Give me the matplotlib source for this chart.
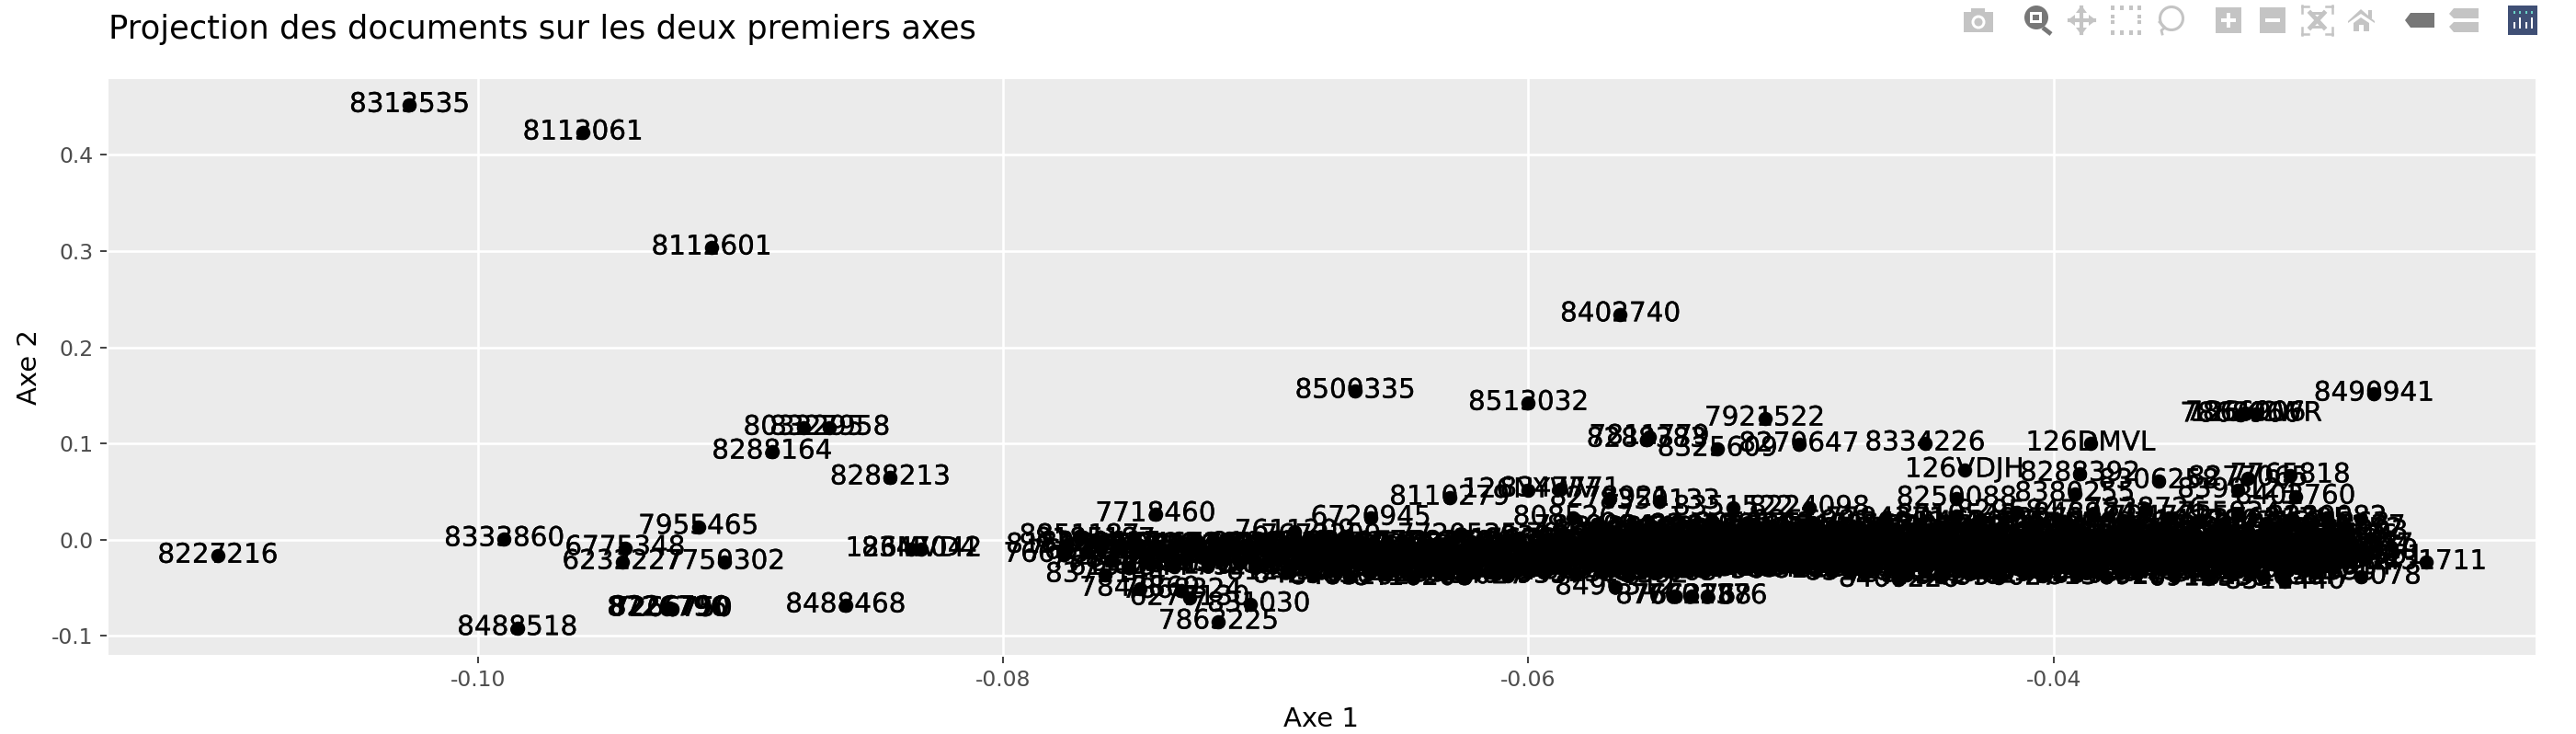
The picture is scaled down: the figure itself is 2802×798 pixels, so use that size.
import matplotlib
matplotlib.use("Agg")
import matplotlib.pyplot as plt
import matplotlib.patheffects as pe
from matplotlib.patches import Rectangle, Circle, Polygon

TITLE = "Projection des documents sur les deux premiers axes"
X_TICKS = [-0.10, -0.08, -0.06, -0.04]
X_TICK_LABELS = ["-0.10", "-0.08", "-0.06", "-0.04"]
Y_TICKS = [-0.1, 0.0, 0.1, 0.2, 0.3, 0.4]
Y_TICK_LABELS = ["-0.1", "0.0", "0.1", "0.2", "0.3", "0.4"]

# documents that can be read individually
read_labels = ("8313535 8113061 8112601 8227216 8333860 7955465 6775348 6232227 7750302 "
               "8726796 7266750 8226790 8488518 8488468 8032295 8327958 8288164 8288213 "
               "126MVD4 8347042 8402740 8500335 8513032 7811779 8288383 8325609 7921522 "
               "8270647 8334226 126DMVL 126VDJH 8288392 8306258 7866906 126KCWR 7868966 "
               "8490941 8277065 7765818 8402760 8399124 8431711 8476078 8311440 8280082 "
               "8226427 8325752 8190224 7718460 8851187 8185187 7666542 8372144 7842869 "
               "6277130 7868324 7831030 7863225 7611209 6720945 7672209 8110279 126NYWV "
               "8347771 8085267 8278921 8350133 8351522 8224098 8250088 8380255 8496312 "
               "8766276 7672388 7601376 8407226 7720535 8156760 7829034").split()
read_x = [-.1026, -.0960, -.0911, -.1099, -.0990, -.0916, -.0944, -.0945, -.0906,
          -.0928, -.0926, -.0927, -.0985, -.0860, -.0876, -.0866, -.0888, -.0843,
          -.0835, -.0831, -.0565, -.0666, -.0600, -.0554, -.0555, -.0528, -.0510,
          -.0497, -.0449, -.0386, -.0434, -.0390, -.0360, -.0327, -.0323, -.0329,
          -.0278, -.0326, -.0310, -.0308, -.0330, -.0258, -.0283, -.0312, -.0296,
          -.0289, -.0290, -.0287, -.0742, -.0771, -.0765, -.0777, -.0761, -.0748,
          -.0729, -.0732, -.0706, -.0718, -.0689, -.0660, -.0679, -.0630, -.0600,
          -.0588, -.0583, -.0569, -.0550, -.0522, -.0493, -.0437, -.0392, -.0567,
          -.0544, -.0538, -.0532, -.0459, -.0627, -.0606, -.0575]
read_y = [.4518, .4232, .3037, -.0167, .0007, .0134, -.0086, -.0232, -.0232,
          -.0717, -.0722, -.0712, -.0918, -.0682, .1163, .1163, .0915, .0647,
          -.0098, -.0098, .2342, .1546, .1421, .1068, .1039, .0944, .1259,
          .0991, .1001, .1001, .0724, .0685, .0609, .1312, .1307, .1300,
          .1517, .0638, .0667, .0446, .0513, -.0233, -.0385, -.0434, .0226,
          .0131, .0100, -.0098, .0265, .0035, -.0003, -.0157, -.0366, -.0510,
          -.0605, -.0530, -.0673, -.0853, .0083, .0226, .0035, .0437, .0514,
          .0524, .0226, .0427, .0397, .0330, .0330, .0427, .0475, -.0495,
          -.0590, -.0590, -.0590, -.0415, .0040, -.0010, .0130]

# dense band: positions estimated, labels hidden by overlap
band_x = [
 -.0776, -.0768, -.0763, -.0759, -.0756, -.0752, -.0749, -.0746, -.0744, -.0741,
 -.0738, -.0735, -.0733, -.0730, -.0727, -.0725, -.0722, -.0720, -.0717, -.0715,
 -.0712, -.0710, -.0708, -.0706, -.0704, -.0702, -.0700, -.0698, -.0696, -.0694,
 -.0692, -.0690, -.0688, -.0686, -.0684, -.0682, -.0680, -.0678, -.0676, -.0674,
 -.0672, -.0670, -.0668, -.0666, -.0664, -.0662, -.0660, -.0658, -.0656, -.0654,
 -.0652, -.0650, -.0648, -.0646, -.0644, -.0642, -.0640, -.0638, -.0636, -.0634,
 -.0632, -.0630, -.0628, -.0626, -.0624, -.0622, -.0620, -.0618, -.0616, -.0614,
 -.0612, -.0610, -.0608, -.0606, -.0604, -.0602, -.0600, -.0598, -.0596, -.0594,
 -.0592, -.0590, -.0588, -.0586, -.0584, -.0582, -.0580, -.0578, -.0576, -.0574,
 -.0572, -.0571, -.0569, -.0568, -.0566, -.0565, -.0563, -.0562, -.0560, -.0559,
 -.0558, -.0557, -.0556, -.0555, -.0554, -.0553, -.0552, -.0551, -.0550, -.0549,
 -.0548, -.0547, -.0546, -.0545, -.0544, -.0543, -.0542, -.0541, -.0540, -.0539,
 -.0538, -.0537, -.0536, -.0535, -.0534, -.0533, -.0532, -.0531, -.0530, -.0529,
 -.0528, -.0527, -.0526, -.0525, -.0524, -.0523, -.0522, -.0521, -.0520, -.0519,
 -.0518, -.0516, -.0515, -.0514, -.0512, -.0511, -.0510, -.0508, -.0507, -.0506,
 -.0505, -.0503, -.0502, -.0501, -.0499, -.0498, -.0497, -.0495, -.0494, -.0493,
 -.0492, -.0490, -.0489, -.0488, -.0486, -.0485, -.0484, -.0482, -.0481, -.0480,
 -.0479, -.0477, -.0476, -.0475, -.0473, -.0472, -.0471, -.0469, -.0468, -.0467,
 -.0466, -.0464, -.0463, -.0462, -.0460, -.0459, -.0458, -.0456, -.0455, -.0454,
 -.0453, -.0451, -.0450, -.0449, -.0447, -.0446, -.0445, -.0443, -.0442, -.0441,
 -.0440, -.0438, -.0437, -.0436, -.0434, -.0433, -.0432, -.0430, -.0429, -.0428,
 -.0427, -.0425, -.0424, -.0423, -.0421, -.0420, -.0419, -.0417, -.0416, -.0415,
 -.0414, -.0412, -.0411, -.0410, -.0408, -.0407, -.0406, -.0404, -.0403, -.0402,
 -.0401, -.0399, -.0398, -.0397, -.0395, -.0394, -.0393, -.0391, -.0390, -.0389,
 -.0388, -.0386, -.0385, -.0384, -.0382, -.0381, -.0380, -.0378, -.0377, -.0376,
 -.0375, -.0373, -.0372, -.0371, -.0369, -.0368, -.0367, -.0365, -.0364, -.0363,
 -.0362, -.0360, -.0359, -.0358, -.0356, -.0355, -.0354, -.0352, -.0351, -.0350,
 -.0349, -.0347, -.0346, -.0345, -.0343, -.0342, -.0341, -.0339, -.0338, -.0337,
 -.0336, -.0334, -.0333, -.0332, -.0330, -.0329, -.0328, -.0326, -.0325, -.0324,
 -.0323, -.0321, -.0320, -.0319, -.0317, -.0316, -.0315, -.0313, -.0312, -.0311,
 -.0310, -.0308, -.0307, -.0306, -.0304, -.0303, -.0302, -.0300, -.0299, -.0298,
 -.0297, -.0295, -.0294, -.0292, -.0291, -.0290, -.0288, -.0286, -.0284, -.0282]
band_y = [
 -.0061, -.0125, -.0042, -.0214, -.0088, -.0292, -.0057, -.0166, -.0249, -.0071,
 -.0131, -.0278, -.0064, -.0197, -.0053, -.0148, -.0262, -.0086, -.0181, -.0072,
 -.0103, -.0235, -.0059, -.0166, -.0287, -.0072, -.0129, -.0045, -.0204, -.0093,
 -.0341, -.0052, -.0156, -.0268, -.0081, -.0372, -.0118, -.0224, -.0041, -.0305,
 -.0176, -.0066, -.0389, -.0135, -.0251, -.0037, -.0324, -.0098, -.0208, -.0361,
 -.0078, -.0286, -.0152, -.0049, -.0398, -.0229, -.0112, -.0317, -.0061, -.0189,
 -.0352, -.0034, -.0247, -.0127, -.0381, -.0084, -.0296, -.0169, -.0052, -.0338,
 -.0215, -.0096, -.0374, -.0027, -.0274, -.0143, -.0322, -.0068, -.0193, -.0011,
 -.0301, -.0126, .0018, -.0238, -.0083, -.0359, -.0176, .0047, -.0264, -.0105,
 -.0331, -.0028, -.0201, .0079, -.0147, -.0289, -.0062, -.0372, .0113, -.0225,
 -.0118, .0031, -.0317, -.0171, .0092, -.0042, -.0254, -.0346, .0016, -.0098,
 -.0209, .0064, -.0281, -.0134, -.0019, .0125, -.0308, -.0077, -.0236, .0038,
 -.0153, -.0292, .0087, -.0051, -.0186, -.0324, .0011, .0142, -.0112, -.0263,
 -.0029, .0071, -.0215, -.0301, -.0089, .0106, -.0167, .0023, -.0243, -.0126,
 .0054, -.0284, -.0047, .0158, -.0198, -.0107, .0089, -.0312, -.0014, -.0229,
 -.0141, .0033, -.0268, .0122, -.0073, -.0172, -.0296, .0066, -.0036, -.0208,
 .0182, -.0117, -.0253, .0009, -.0154, .0098, -.0321, -.0062, -.0188, .0047,
 -.0279, -.0094, .0135, -.0224, -.0023, -.0343, .0076, -.0131, -.0261, .0018,
 -.0166, .0211, -.0056, -.0302, .0104, -.0203, -.0084, -.0365, .0039, -.0142,
 -.0247, .0162, -.0011, -.0326, -.0112, .0081, -.0184, -.0385, -.0043, .0127,
 -.0231, -.0072, .0244, -.0286, -.0137, .0027, -.0352, -.0098, .0173, -.0215,
 -.0031, -.0317, .0059, -.0159, -.0394, .0116, -.0069, -.0262, .0008, -.0192,
 .0287, -.0124, -.0341, .0091, -.0047, -.0226, .0148, -.0373, -.0085, -.0169,
 .0036, -.0295, .0203, -.0108, -.0248, -.0021, .0122, -.0356, -.0141, .0067,
 -.0201, -.0064, .0258, -.0327, -.0119, .0014, -.0388, -.0176, .0097, -.0036,
 -.0278, .0159, -.0089, -.0219, .0045, -.0345, -.0133, .0312, -.0058, -.0247,
 -.0012, .0109, -.0298, -.0157, .0228, -.0079, -.0376, .0026, -.0192, -.0116,
 .0071, -.0268, -.0041, .0186, -.0331, -.0127, -.0402, .0054, -.0211, -.0091,
 .0134, -.0172, -.0026, -.0359, .0267, -.0236, -.0105, .0088, -.0304, -.0063,
 -.0148, .0019, -.0389, .0171, -.0253, -.0082, .0101, -.0197, -.0037, -.0318,
 .0206, -.0121, -.0274, .0043, -.0178, .0129, -.0069, -.0341, -.0016, -.0231,
 -.0102, .0158, -.0286, .0032, -.0147, -.0215, .0077, -.0058, -.0121, -.0178]
band_labels = """
8151620 7654128 8230417 7981356 8401273 6190844 8356120 7742093 8127765 8290341
7613582 8344109 8021976 7895430 8467201 6634518 8209873 7758246 8390617 8148052
8275390 7532864 8416729 8063195 7920641 8338472 6487013 8196548 7703829 8452106
8123967 7869340 8305218 8246791 7594083 8429650 8071326 7936815 8362047 6805219
8218473 7647590 8483162 8052937 7908254 8321746 8164809 7785012 8440693 8297135
7671248 8379506 8034871 7952163 8416208 6358947 8252790 7826431 8475019 8109652
8341276 7583904 8267518 8095143 7968027 8433861 8186290 7714653 8359427 8028716
8290564 7639182 8407935 8143276 7990518 8324067 6721843 8268159 7851390 8466702
8117435 7796028 8383641 8236907 7562184 8451329 8078562 7943716 8310295 8175840
8259631 7688417 8492056 8046923 7912378 8335184 8129746 7770592 8428603 8303917
7624851 8371269 8015734 7976402 8442518 6549270 8283946 7819063 8460185 8191327
8350672 7593418 8276041 8084795 7958263 8419307 8170584 7732916 8367240 8037659
8298126 7650843 8411579 8152364 7984021 8329756 6873402 8241967 7864130 8473295
8106748 7781526 8392417 8225083 7571962 8436840 8069215 7929673 8314508 8182736
8263094 7695281 8487360 8058142 7903867 8348215 8134679 7763408 8425931 8309564
7631907 8365042 8029386 7965714 8447623 6412859 8279310 7832645 8456078 8197423
8356981 7587236 8271405 8090762 7945138 8422659 8163027 7726514 8373896 8041275
8284713 7662039 8403568 8147902 7993456 8318620 6958174 8254387 7843901 8478216
8112650 7794371 8386029 8231546 7556812 8444197 8084623 7937280 8327461 8178905
8266472 7680354 8495127 8043896 7917502 8342768 8139051 7751246 8432085 8301639
7628174 8378920 8019543 7971086 8438265 6593728 8287601 7815924 8463057 8194582
8353716 7598142 8272639 8097384 7950627 8414903 8168275 7739061 8361458 8035192
8295847 7657230 8409316 8155628 7987043 8325179 6846251 8245830 7860173 8471694
8103425 7788956 8397204 8228361 7578043 8430716 8062589 7923456 8317094 8185273
8260938 7691605 8489742 8051367 7909184 8346530 8136927 7767251 8421486 8306175
7635408 8368791 8023657 7962340 8449012 6465137 8281594 7838726 8453801 8199046
8359324 7584970 8274158 8093617 7947825 8425370 8160492 7729683 8376105 8044738
8287256 7665901 8406143 8141780 7996382 8312947 6912538 8257064 7847216 8476529
8115903 7791642 8389570 8234218 7559347 8447825 8087136 7934062 8320786 8172459
8269015 7683297 8491638 8047152 7914820 8339406 8132574 7754938 8435219 8308642
7621795 8375483 8012869 7978531 8435904 6576312 8289467 7812350 8469128 8192705
8357049 7591263 8277814 8099526 7953140 8418672 8165093 7736847 8364219 8038561
""".split()

# second estimate of the darkest part of the band
core_x = [
 -.0683, -.0677, -.0671, -.0665, -.0659, -.0653, -.0647, -.0641, -.0635, -.0629,
 -.0623, -.0617, -.0611, -.0605, -.0599, -.0593, -.0587, -.0581, -.0575, -.0569,
 -.0563, -.0559, -.0555, -.0552, -.0549, -.0546, -.0543, -.0540, -.0537, -.0534,
 -.0531, -.0528, -.0525, -.0522, -.0519, -.0516, -.0513, -.0510, -.0507, -.0504,
 -.0501, -.0498, -.0495, -.0492, -.0489, -.0486, -.0483, -.0480, -.0477, -.0474,
 -.0471, -.0468, -.0465, -.0462, -.0459, -.0456, -.0453, -.0450, -.0447, -.0444,
 -.0441, -.0438, -.0435, -.0432, -.0429, -.0426, -.0423, -.0420, -.0417, -.0414,
 -.0411, -.0408, -.0405, -.0402, -.0399, -.0396, -.0393, -.0390, -.0387, -.0384,
 -.0381, -.0378, -.0375, -.0372, -.0369, -.0366, -.0363, -.0360, -.0357, -.0354,
 -.0351, -.0348, -.0345, -.0342, -.0339, -.0336, -.0333, -.0330, -.0327, -.0324,
 -.0321, -.0318, -.0315, -.0312, -.0309, -.0306, -.0303, -.0300, -.0297, -.0294]
core_y = [
 -.0252, -.0186, -.0301, -.0215, -.0147, -.0278, -.0203, -.0331, -.0169, -.0246,
 -.0312, -.0137, -.0268, -.0192, -.0224, -.0096, -.0289, -.0158, -.0034, -.0241,
 -.0122, -.0276, -.0061, -.0193, -.0007, -.0232, -.0144, -.0264, -.0083, -.0178,
 -.0024, -.0219, -.0116, -.0252, .0012, -.0165, -.0073, -.0238, -.0129, -.0029,
 -.0203, -.0097, -.0271, .0006, -.0152, -.0228, -.0054, -.0121, -.0307, -.0186,
 -.0016, -.0248, -.0091, .0031, -.0173, -.0283, -.0067, -.0214, -.0124, .0014,
 -.0262, -.0152, -.0045, -.0319, -.0187, .0042, -.0101, -.0233, -.0076, -.0296,
 -.0143, -.0008, -.0208, -.0271, -.0115, .0024, -.0179, -.0058, -.0327, -.0234,
 -.0087, -.0156, .0037, -.0299, -.0201, -.0033, -.0127, -.0259, -.0071, -.0189,
 .0011, -.0281, -.0138, -.0224, -.0049, -.0164, -.0312, -.0102, -.0018, -.0243,
 -.0176, -.0083, -.0271, -.0132, -.0029, -.0208, -.0113, -.0164, -.0059, -.0142]
core_labels = """
8203417 7691258 8354906 7840123 8126745 8417360 7965281 8072639 8331504 7612897
8249053 8486172 7758340 8190626 8302917 7934586 8065742 8371209 7689415 8156320
8427638 7803951 8213076 8395482 7649327 8083164 8346591 7921708 8174230 8458916
8237145 7776503 8319684 8041792 7993125 8402367 8126059 7714862 8365470 8279316
7858024 8443791 8016253 8298640 7942175 8180367 8355729 7631048 8227594 8419083
8064317 7889256 8336142 8153708 7975820 8470635 8208419 7742396 8381057 8095162
8263748 7605931 8448270 8022586 7916043 8341795 8137264 7798502 8409681 8286137
7670419 8392846 8054173 7928360 8317529 8169024 7823695 8484301 8211758 8073942
8359216 7647083 8264950 8436127 7986314 8120475 8303682 7757928 8412539 8058261
8245097 7699134 8378420 8145906 7901263 8465372 8032718 8292145 7836047 8183569
8420736 7613258 8334907 8076421 7958613 8251840 8107396 7772045 8447158 8316290
""".split()

doc_x = read_x + band_x + core_x
doc_y = read_y + band_y + core_y
doc_labels = read_labels + band_labels + core_labels

fig = plt.figure(figsize=(28.02, 7.98), dpi=100, facecolor="white")
plt.rcParams["font.family"] = "DejaVu Sans"
ax = fig.add_axes([118 / 2802, 86 / 798, 2640 / 2802, 626 / 798], facecolor="#ebebeb")
ax.set_xlim(-0.11406, -0.02165)
ax.set_ylim(-0.1198, 0.4787)
ax.set_xticks(X_TICKS, X_TICK_LABELS)
ax.set_yticks(Y_TICKS, Y_TICK_LABELS)
ax.grid(True, color="white", linewidth=1.9, zorder=1)
ax.set_axisbelow(True)
for side in ax.spines:
    ax.spines[side].set_visible(False)
ax.spines["bottom"].set_position(("outward", 1.5))
ax.spines["left"].set_position(("outward", 1.5))
ax.tick_params(axis="both", length=5.2, width=1.3, color="#333333",
               labelcolor="#4d4d4d", labelsize=16.9, pad=5)

ax.scatter(doc_x, doc_y, s=125, color="black", linewidths=0, zorder=3)
thicken = [pe.withStroke(linewidth=0.2, foreground="black")]
for x, y, s in zip(doc_x, doc_y, doc_labels):
    ax.annotate(s, (x, y), xytext=(0, 0.3), textcoords="offset points",
                ha="center", va="center", fontsize=21.2, color="black", zorder=4,
                annotation_clip=False, path_effects=thicken)

fig.text(118 / 2802, 1 - 42 / 798, TITLE, fontsize=25.4, color="black", va="baseline", ha="left")
fig.text(1437 / 2802, 1 - 782 / 798, "Axe 1", fontsize=21, color="black", ha="center", va="center")
fig.text(32 / 2802, 1 - 399 / 798, "Axe 2", fontsize=21, color="black", ha="center", va="center",
         rotation=90)

# plotly mode bar, drawn on a pixel-sized overlay
bar = fig.add_axes([0, 0, 1, 1], facecolor="none")
bar.set_xlim(0, 2802)
bar.set_ylim(798, 0)
bar.axis("off")
LIGHT, DARK, LOGO = "#c4c4c4", "#777777", "#3f4f75"


def rect(x, y, w, h, c, **kw):
    bar.add_patch(Rectangle((x, y), w, h, facecolor=c, edgecolor="none", **kw))


# camera
rect(2136, 13, 32, 22, LIGHT)
rect(2144, 9, 15, 5, LIGHT)
bar.add_patch(Circle((2152, 24), 7.5, facecolor="white", edgecolor="none"))
bar.add_patch(Circle((2152, 24), 4.5, facecolor=LIGHT, edgecolor="none"))
# zoom
bar.add_patch(Circle((2215, 19), 13, facecolor=DARK, edgecolor="none"))
rect(2208, 13, 13, 12, "white")
rect(2211, 16, 7, 6, DARK)
bar.plot([2222, 2231], [30, 37], color=DARK, lw=3.5, solid_capstyle="butt")
# pan
bar.plot([2251, 2278], [22, 22], color=LIGHT, lw=3)
bar.plot([2264, 2264], [8, 36], color=LIGHT, lw=3)
for pts in ([(2264, 6), (2258, 14), (2270, 14)], [(2264, 38), (2258, 30), (2270, 30)],
            [(2249, 22), (2257, 16), (2257, 28)], [(2280, 22), (2272, 16), (2272, 28)]):
    bar.add_patch(Polygon(pts, facecolor=LIGHT, edgecolor="none"))
# box select
for v in (2296, 2306, 2316, 2325):
    rect(v, 6, 4, 5, LIGHT)
    rect(v, 33, 4, 5, LIGHT)
for v in (16, 22):
    rect(2296, v, 4, 4, LIGHT)
    rect(2325, v, 4, 4, LIGHT)
# lasso
bar.add_patch(Circle((2362, 20), 12.5, facecolor="none", edgecolor=LIGHT, lw=2.2))
bar.plot([2349, 2355, 2351, 2352], [24, 30, 33, 37], color=LIGHT, lw=2)
# zoom in / out
rect(2410, 8, 28, 28, LIGHT)
rect(2416, 20, 16, 4, "white")
rect(2422, 14, 4, 16, "white")
rect(2458, 8, 28, 28, LIGHT)
rect(2464, 20, 16, 4, "white")
# autoscale
for xa, xb in ((2504, 2511), (2530, 2537)):
    for ya in (7, 37):
        bar.plot([xa, xb], [ya, ya], color=LIGHT, lw=1.8)
bar.plot([2504, 2504], [6, 14], color=LIGHT, lw=1.8)
bar.plot([2537, 2537], [6, 14], color=LIGHT, lw=1.8)
bar.plot([2504, 2504], [30, 38], color=LIGHT, lw=1.8)
bar.plot([2537, 2537], [30, 38], color=LIGHT, lw=1.8)
bar.plot([2513, 2528], [14, 30], color=LIGHT, lw=3.5)
bar.plot([2528, 2513], [14, 30], color=LIGHT, lw=3.5)
rect(2513, 13, 15, 3, LIGHT)
rect(2513, 28, 15, 3, LIGHT)
# home
bar.add_patch(Polygon([(2554, 23), (2568, 10), (2583, 23), (2583, 25), (2568, 15), (2554, 25)],
                      facecolor=LIGHT, edgecolor="none"))
bar.add_patch(Polygon([(2560, 25), (2568, 19), (2577, 25), (2577, 34), (2571, 34), (2571, 27),
                       (2566, 27), (2566, 34), (2560, 34)], facecolor=LIGHT, edgecolor="none"))
rect(2576, 11, 4, 9, LIGHT)
# spike lines closest / compare
bar.add_patch(Polygon([(2616, 22), (2622, 14), (2648, 14), (2648, 30), (2622, 30)],
                      facecolor=DARK, edgecolor="none"))
bar.add_patch(Polygon([(2664, 15), (2669, 9), (2696, 9), (2696, 20), (2669, 20)],
                      facecolor=LIGHT, edgecolor="none"))
bar.add_patch(Polygon([(2664, 29), (2669, 24), (2696, 24), (2696, 35), (2669, 35)],
                      facecolor=LIGHT, edgecolor="none"))
# plotly logo
rect(2728, 6, 32, 32, LOGO)
for v in (2734, 2740, 2747, 2753):
    rect(v, 12, 2.2, 2.6, "#69d2c5")
for v, top in ((2734, 24), (2740, 19), (2747, 24), (2753, 19)):
    rect(v, top, 2.2, 31 - top, "white")

fig.savefig("out.png", dpi=100, facecolor="white")
